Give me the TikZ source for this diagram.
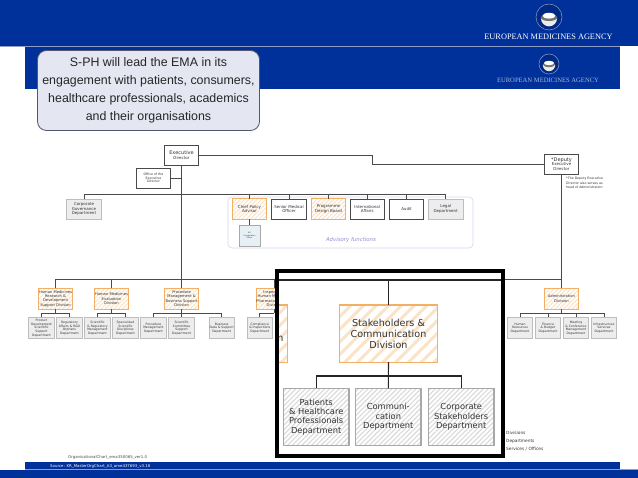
\documentclass[tikz,border=0pt]{standalone}
\usepackage{fontspec}
\setmainfont{DejaVu Sans}
\newfontfamily\calloutfont{Liberation Sans}
\newfontfamily\logofont{Liberation Serif}
\usetikzlibrary{patterns.meta,calc}
\definecolor{emablue}{HTML}{00309A}
\definecolor{bandline}{HTML}{8E9CC6}
\definecolor{calloutfill}{HTML}{E4E6F2}
\definecolor{calloutedge}{HTML}{55566A}
\definecolor{orgline}{HTML}{4A4A4A}
\definecolor{divedge}{HTML}{F2B066}
\definecolor{divhatch}{HTML}{FBE3C8}
\definecolor{depfill}{HTML}{EDEDED}
\definecolor{depedge}{HTML}{BDBDBD}
\definecolor{bigdepedge}{HTML}{A8A8A8}
\definecolor{bighatch}{HTML}{DADADA}
\definecolor{advedge}{HTML}{DADCEE}
\definecolor{advtext}{HTML}{8C90D0}
\definecolor{smallfill}{HTML}{E6F0F5}
\definecolor{smalltext}{HTML}{333333}
\tikzset{
  base/.style={inner sep=0pt,outer sep=0pt,align=center,font=\fontsize{4}{4.7}\selectfont,text=smalltext},
  topbox/.style={base,draw=orgline,line width=0.8pt,fill=white,minimum width=34.5pt,minimum height=20pt},
  greybox/.style={base,draw=depedge,line width=0.8pt,fill=depfill,minimum width=34.5pt,minimum height=20pt},
  divbox/.style={base,draw=divedge,line width=0.8pt,preaction={fill=white},minimum width=34.5pt,minimum height=20.5pt,
    pattern={Lines[angle=45,distance=3pt,line width=1pt]},pattern color=divhatch},
  depbox/.style={base,draw=depedge,line width=0.8pt,fill=depfill,minimum width=25.5pt,minimum height=21pt,font=\fontsize{3.1}{3.6}\selectfont},
  bigdiv/.style={base,draw=divedge,line width=1.4pt,preaction={fill=white},minimum width=98.4pt,minimum height=57.3pt,
    font=\fontsize{9.6}{11}\selectfont,
    pattern={Lines[angle=45,distance=9pt,line width=3pt]},pattern color=divhatch},
  bigdep/.style={base,draw=bigdepedge,line width=1.4pt,preaction={fill=white},minimum width=65.7pt,minimum height=57.4pt,
    font=\fontsize{8.3}{9.4}\selectfont,
    pattern={Lines[angle=45,distance=3.4pt,line width=1.1pt]},pattern color=bighatch},
  orgconn/.style={draw=orgline,line width=0.7pt},
  bigconn/.style={draw=black!85,line width=1.1pt},
  band/.style={fill=emablue,draw=none},
  notetext/.style={inner sep=0pt,anchor=west,font=\fontsize{4.3}{5}\selectfont,text=smalltext}
}
\newcommand{\emalogo}[2]{%
  \fill[emablue!85!black,draw=bandline,line width=0.5pt] (#1) circle (#2pt);
  \fill[white!92!black] ($(#1)+(-0.62*#2pt,-0.1*#2pt)$) arc[start angle=180,end angle=360,radius=0.62*#2pt]
     -- cycle;
  \fill[black!55] ($(#1)+(0,-0.05*#2pt)$) ellipse[x radius=0.62*#2pt,y radius=0.26*#2pt];
  \fill[white] ($(#1)+(0,0.1*#2pt)$) ellipse[x radius=0.5*#2pt,y radius=0.22*#2pt];
}
\begin{document}
\begin{tikzpicture}[x=1pt,y=-1pt]
\useasboundingbox (0,0) rectangle (638,478);
\fill[white] (0,0) rectangle (638,478);

% header and footer bands
\fill[band] (0,0) rectangle (638,46);
\fill[bandline] (0,46) rectangle (620,47.5);
\fill[band] (25,47.5) rectangle (620,89);
\fill[band] (25,462) rectangle (620,469.5);
\fill[bandline] (25,469.5) rectangle (638,470);
\fill[band] (0,470) rectangle (638,478);

\coordinate (logoa) at (549,17);
\coordinate (logob) at (549,64);
\emalogo{logoa}{13}
\emalogo{logob}{10}
\node[inner sep=0pt,text=white,font=\logofont\fontsize{8.3}{9}\selectfont] (brandone) at (548.5,36.5) {EUROPEAN MEDICINES AGENCY};
\node[inner sep=0pt,text=white!65!emablue,font=\logofont\fontsize{6.6}{7}\selectfont] (brandtwo) at (548,80.5) {EUROPEAN MEDICINES AGENCY};

% callout
\node[draw=calloutedge,line width=0.8pt,fill=calloutfill,rounded corners=9pt,inner sep=0pt,
  minimum width=222pt,minimum height=80pt,align=center,text=black!85,
  font=\calloutfont\fontsize{12.4}{18}\selectfont] (callout) at (148.5,90.5)
  {S-PH will lead the EMA in its\\engagement with patients, consumers,\\healthcare professionals, academics\\and their organisations};

% advisory panel
\draw[advedge,line width=0.8pt,rounded corners=4pt] (228,197) rectangle (473,248);
\node[inner sep=0pt,text=advtext,font=\itshape\fontsize{5.4}{6}\selectfont] (advlabel) at (351,240) {Advisory functions};

% top level
\node[topbox] (exec) at (181.5,155) {\fontsize{5}{5.6}\selectfont Executive\\Director};
\node[topbox,font=\fontsize{3.2}{3.8}\selectfont] (office) at (153.5,178) {Office of the\\Executive\\Director};
\node[topbox] (deputy) at (561.5,164) {\fontsize{5}{5.6}\selectfont *Deputy\\Executive\\Director};
\node[notetext,font=\fontsize{3.2}{4.2}\selectfont,align=left] (note) at (566,183) {*The Deputy Executive\\Director also serves as\\head of Administration};

\coordinate (upperleft) at (84,194);
\coordinate (spine) at (181.5,194);
\coordinate (kink) at (372,155);
\coordinate (kinkb) at (372,164);
\coordinate (lowerbar) at (181.5,279);

\node[greybox] (corp) at (84,209) {Corporate\\Governance\\Department};
\node[divbox] (chief) at (249.5,209) {Chief Policy\\Advisor};
\node[topbox] (senior) at (289,209) {Senior Medical\\Officer};
\node[divbox] (prog) at (328.5,209) {Programme\\Design Board};
\node[topbox] (intl) at (367.2,209) {International\\Affairs};
\node[topbox] (audit) at (406.5,209) {Audit};
\node[greybox] (legal) at (445.7,209) {Legal\\Department};
\node[base,draw=bigdepedge,line width=0.8pt,fill=smallfill,minimum width=21pt,minimum height=21pt,font=\fontsize{1.9}{2.3}\selectfont] (euoffice) at (249.5,235.5) {EU\\Coordination\\Office};

\draw[orgconn] (exec.east) -- (kink) -- (kinkb) -- (deputy.west);
\draw[orgconn] (exec.south) -- (lowerbar);
\draw[orgconn] (office.east) -- (office.east -| exec.south);
\draw[orgconn] (corp.north) -- (upperleft) -- (upperleft -| legal.north) -- (legal.north);
\foreach \n in {chief,senior,prog,intl,audit} \draw[orgconn] (\n.north) -- (\n.north |- upperleft);
\draw[orgconn] (chief.south) -- (euoffice.north);

% divisions
\node[divbox,font=\fontsize{3.7}{4.4}\selectfont] (research) at (55.6,298.7) {Human Medicines\\Research \&\\Development\\Support Division};
\node[divbox,font=\fontsize{3.7}{4.4}\selectfont] (evaluation) at (111.5,298.7) {Human Medicines\\Evaluation\\Division};
\node[divbox,font=\fontsize{3.7}{4.4}\selectfont] (procedure) at (181.6,298.7) {Procedure\\Management \&\\Business Support\\Division};
\node[divbox,font=\fontsize{3.7}{4.4}\selectfont] (inspect) at (274,298.7) {Inspections\\Human Medicines\\Pharmacovigilance\\Division};
\node[divbox,font=\fontsize{3.7}{4.4}\selectfont] (admin) at (561.5,298.7) {Administration\\Division};

\draw[orgconn] (research.north) -- (research.north |- lowerbar) -- (lowerbar -| admin.north);
\draw[orgconn] (deputy.south) -- (admin.north);
\foreach \n in {evaluation,procedure,inspect} \draw[orgconn] (\n.north) -- (\n.north |- lowerbar);

% departments
\node[depbox] (da) at (41.5,328) {Product\\Development\\Scientific\\Support\\Department};
\node[depbox] (db) at (69.5,328) {Regulatory\\Affairs \& R\&D\\Orphans\\Department};
\node[depbox] (dc) at (97.5,328) {Scientific\\\& Regulatory\\Management\\Department};
\node[depbox] (dd) at (125.5,328) {Specialised\\Scientific\\Disciplines\\Department};
\node[depbox] (de) at (153.5,328) {Procedure\\Management\\Department};
\node[depbox] (df) at (181.6,328) {Scientific\\Committee\\Support\\Department};
\node[depbox] (dg) at (221.7,328) {Business\\Data \& Support\\Department};
\node[depbox] (dh) at (259.8,328) {Compliance\\\& Inspections\\Department};
\node[depbox] (di) at (520,328) {Human\\Resources\\Department};
\node[depbox] (dj) at (548,328) {Finance\\\& Budget\\Department};
\node[depbox] (dk) at (576,328) {Meeting\\\& Conference\\Management\\Department};
\node[depbox] (dl) at (604,328) {Infrastructure\\Services\\Department};

\coordinate (busa) at (55.6,313);
\coordinate (busb) at (111.5,313);
\coordinate (busc) at (181.6,313);
\coordinate (busd) at (274,313);
\coordinate (buse) at (561.5,313);
\draw[orgconn] (research.south) -- (busa);
\draw[orgconn] (da.north) -- (da.north |- busa) -- (db.north |- busa) -- (db.north);
\draw[orgconn] (evaluation.south) -- (busb);
\draw[orgconn] (dc.north) -- (dc.north |- busb) -- (dd.north |- busb) -- (dd.north);
\draw[orgconn] (procedure.south) -- (df.north);
\draw[orgconn] (de.north) -- (de.north |- busc) -- (dg.north |- busc) -- (dg.north);
\draw[orgconn] (inspect.south) -- (busd);
\draw[orgconn] (dh.north) -- (dh.north |- busd) -- (busd);
\draw[orgconn] (admin.south) -- (buse);
\draw[orgconn] (di.north) -- (di.north |- buse) -- (dl.north |- buse) -- (dl.north);
\foreach \n in {dj,dk} \draw[orgconn] (\n.north) -- (\n.north |- buse);

% notes and sources
\node[notetext] (ldiv) at (506,433) {Divisions};
\node[notetext] (ldep) at (506,441) {Departments};
\node[notetext] (lserv) at (506,449) {Services / Offices};
\node[inner sep=0pt,anchor=west,text=black!70,font=\fontsize{3.9}{4.5}\selectfont] (fileref) at (68,457.5) {OrganisationalChart\_ema350065\_ver1.0};
\node[inner sep=0pt,anchor=west,text=white,font=\fontsize{3.9}{4.5}\selectfont] (source) at (50,466) {Source: KR\_MasterOrgChart\_A3\_ame437693\_v3.18};

% magnified frame
\fill[white] (276.5,270.7) rectangle (503.5,456);
\begin{scope}
\clip (278,272.7) rectangle (501.7,454);
\node[bigdiv] (leftdiv) at (238.5,333.6) {};
\node[base,anchor=east,font=\fontsize{9.6}{11}\selectfont] (leftlabel) at (283.5,339) {n};
\node[bigdep] (leftdep) at (240,417) {};
\end{scope}
\coordinate (framebar) at (278,280);
\coordinate (framebarr) at (501.7,280);
\node[bigdiv] (stake) at (388.5,333.6) {Stakeholders \&\\Communication\\Division};
\node[bigdep] (patients) at (316.2,417) {Patients\\\& Healthcare\\Professionals\\Department};
\node[bigdep] (commu) at (388.3,417) {Communi-\\cation\\Department};
\node[bigdep] (corpst) at (461.2,417) {Corporate\\Stakeholders\\Department};
\coordinate (busf) at (388.5,376);
\draw[bigconn] (framebar) -- (framebarr);
\draw[bigconn] (stake.north |- framebar) -- (stake.north);
\draw[bigconn] (stake.south) -- (commu.north);
\draw[bigconn] (patients.north) -- (patients.north |- busf) -- (corpst.north |- busf) -- (corpst.north);
\draw[black,line width=4pt] (276.6,270.7) rectangle (503.3,456);
\end{tikzpicture}
\end{document}
